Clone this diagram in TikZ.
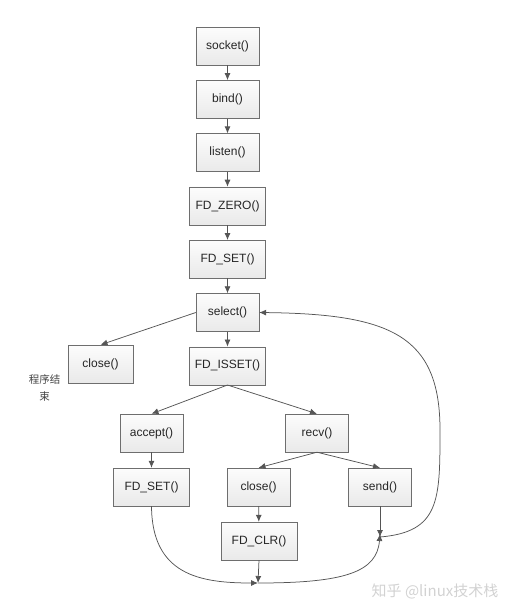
\documentclass[tikz,border=0pt]{standalone}
\usepackage{fontspec}
\setmainfont{Liberation Sans}
\newfontfamily\cjk{Noto Sans CJK SC}
\usepackage{tikz}
\usetikzlibrary{positioning}
\usetikzlibrary{arrows.meta}
\definecolor{edge}{HTML}{6E6E6E}
\definecolor{wire}{HTML}{555555}
\tikzstyle{fn}=[rectangle,draw=edge,top color=gray!2,bottom color=gray!17,minimum width=63pt,minimum height=38pt,font=\fontsize{12}{14}\selectfont,text=black!85]
\tikzstyle{fnw}=[fn,minimum width=76pt]
\tikzstyle{flow}=[draw=wire,line width=0.75pt,-{Latex[length=7pt,width=6pt]}]

\begin{document}
\begin{tikzpicture}[x=1pt,y=-1pt,node distance=53.3pt]
				\useasboundingbox (0,0) rectangle (512,613);
				
				\begin{scope}
				\node [fn] (socket) at (227.5,46) {socket()};
				\node [fn, below of=socket] (bind) {bind()};
				\node [fn, below of=bind] (listen) {listen()};
				\node [fnw, below of=listen] (zero) {FD\_ZERO()};
				\node [fnw, below of=zero] (set) {FD\_SET()};
				\node [fn, below of=set] (select) {select()};
				\node [fnw, below of=select] (isset) {FD\_ISSET()};
				\node [fn, minimum width=65pt] (close) at (100.5,364) {close()};
				\node [fn] (accept) at (151.5,433) {accept()};
				\node [fn] (recv) at (317,433) {recv()};
				\node [fnw] (setb) at (151.5,487) {FD\_SET()};
				\node [fn] (closeb) at (258.5,487) {close()};
				\node [fn] (send) at (380,487) {send()};
				\node [fnw] (clr) at (259,541) {FD\_CLR()};
				
				\node [font=\cjk\fontsize{10.5}{17}\selectfont,align=center,text=black!75] (quit) at (44.5,388) {程序结\\束};
				\node [font=\cjk\fontsize{15}{17}\selectfont,text=gray!35] (mark) at (435,591) {知乎 @linux技术栈};
				
				\coordinate (merge) at (258,583);
				\coordinate (join) at (380,537);
				
				\draw[flow] (socket) -- (bind);
				\draw[flow] (bind) -- (listen);
				\draw[flow] (listen) -- (zero);
				\draw[flow] (zero) -- (set);
				\draw[flow] (set) -- (select);
				\draw[flow] (select) -- (isset);
				\draw[flow] (select.west) -- (close.north);
				
				\draw[flow] (isset.south) -- (accept.north);
				\draw[flow] (isset.south) -- (recv.north);
				\draw[flow] (accept) -- (setb);
				\draw[flow] (recv.south) -- (closeb.north);
				\draw[flow] (recv.south) -- (send.north);
				\draw[flow] (closeb) -- (clr);
				
				\draw[flow] (clr.south) -- (merge);
				\draw[flow] (send.south) -- (join);
				\draw[flow] (setb.south) .. controls (152,575) and (200,583) .. (merge);
				\draw[flow] (merge) .. controls (345,583) and (377,572) .. ([yshift=3pt]join);
				\draw[flow] (join) .. controls (440,532) and (440,500) .. (440,430) .. controls (440,335) and (390,314) .. (select.east);
				\end{scope}
				
				\end{tikzpicture}
\end{document}
